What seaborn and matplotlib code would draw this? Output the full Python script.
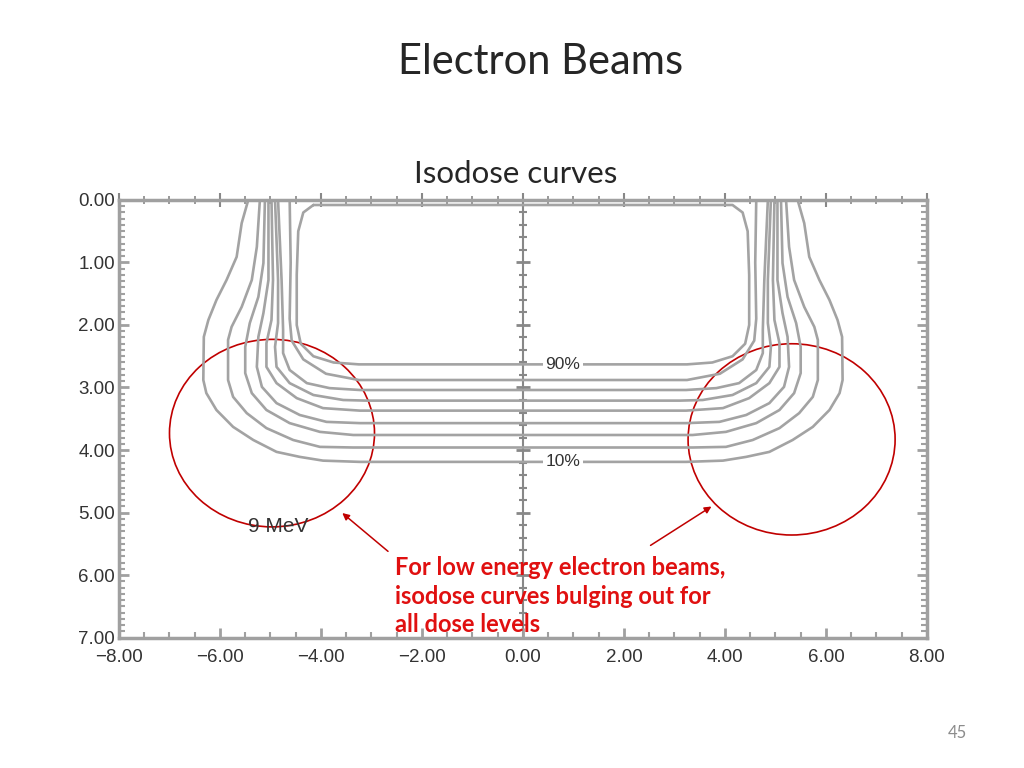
import numpy as np
import pandas as pd
import matplotlib
matplotlib.use('Agg')
import matplotlib.pyplot as plt
import seaborn as sns
from matplotlib.patches import Ellipse
from matplotlib.ticker import MultipleLocator, FuncFormatter

# --------------------------
# 1. Isodose data (9 MeV electron beam)
#    left half of each curve: (lateral x [cm], depth [cm]), surface -> flat bottom
# --------------------------
levels = ['90%', '80%', '70%', '60%', '50%', '40%', '30%', '20%', '10%']

iso_90 = [(-4.15, 0.08), (-4.35, 0.20), (-4.45, 0.50), (-4.48, 1.20), (-4.48, 2.00),
          (-4.40, 2.30), (-4.15, 2.50), (-3.75, 2.60), (-3.25, 2.63)]
iso_80 = [(-4.62, 0.00), (-4.60, 1.00), (-4.62, 1.90), (-4.58, 2.25), (-4.35, 2.55),
          (-3.90, 2.78), (-3.25, 2.88)]
iso_70 = [(-4.85, 0.00), (-4.78, 1.28), (-4.75, 2.08), (-4.75, 2.45), (-4.62, 2.72),
          (-4.28, 2.93), (-3.83, 3.01), (-3.23, 3.04)]
iso_60 = [(-4.91, 0.00), (-4.85, 1.28), (-4.85, 1.97), (-4.91, 2.35), (-4.88, 2.67),
          (-4.62, 2.93), (-4.15, 3.12), (-3.56, 3.20), (-3.10, 3.21)]
iso_50 = [(-4.98, 0.00), (-4.95, 1.28), (-4.98, 1.92), (-5.08, 2.29), (-5.08, 2.67),
          (-4.88, 2.93), (-4.48, 3.17), (-3.96, 3.33), (-3.23, 3.37)]
iso_40 = [(-5.04, 0.00), (-5.04, 1.28), (-5.14, 1.81), (-5.24, 2.19), (-5.27, 2.67),
          (-5.17, 2.99), (-4.88, 3.25), (-4.42, 3.44), (-3.89, 3.55), (-3.23, 3.57)]
iso_30 = [(-5.11, 0.00), (-5.14, 1.01), (-5.24, 1.55), (-5.41, 1.97), (-5.50, 2.35),
          (-5.50, 2.77), (-5.37, 3.09), (-5.08, 3.36), (-4.62, 3.57), (-4.02, 3.71),
          (-3.36, 3.76)]
iso_20 = [(-5.21, 0.00), (-5.27, 0.75), (-5.37, 1.28), (-5.57, 1.71), (-5.77, 2.03),
          (-5.84, 2.24), (-5.84, 2.88), (-5.74, 3.15), (-5.47, 3.41), (-5.08, 3.65),
          (-4.55, 3.84), (-4.02, 3.95), (-3.36, 3.96)]
iso_10 = [(-5.44, 0.00), (-5.57, 0.37), (-5.67, 0.91), (-5.87, 1.28), (-6.07, 1.60),
          (-6.23, 1.92), (-6.32, 2.19), (-6.33, 2.88), (-6.27, 3.09), (-6.07, 3.36),
          (-5.74, 3.63), (-5.34, 3.84), (-4.88, 4.03), (-4.42, 4.11), (-3.96, 4.17),
          (-3.23, 4.19)]
curves = [iso_90, iso_80, iso_70, iso_60, iso_50, iso_40, iso_30, iso_20, iso_10]

# ellipses highlighting the bulge: (x centre, depth centre, width, height)
left_circle = (-4.97, 3.73, 4.06, 3.00)
right_circle = (5.32, 3.83, 4.10, 3.06)

# arrows: (text end) -> (circle end)
left_arrow = ((-2.63, 5.65), (-3.62, 4.98))
right_arrow = ((2.48, 5.55), (3.78, 4.88))

note = 'For low energy electron beams,\nisodose curves bulging out for\nall dose levels'

# mirror each half to the right side; the 90% line is closed along the surface
rows = []
for lev, half in zip(levels, curves):
    full = half + [(-x, y) for x, y in reversed(half)]
    if lev == '90%':
        full = full + [half[0]]
    for i, (x, y) in enumerate(full):
        rows.append({'level': lev, 'order': i, 'x': x, 'depth': y})
df = pd.DataFrame(rows)

# --------------------------
# 2. Plot
# --------------------------
sns.set_style('white')
plt.rcParams['font.family'] = ['Liberation Sans', 'DejaVu Sans']

fig = plt.figure(figsize=(10.24, 7.68), dpi=100)
ax = fig.add_axes([0.1162, 0.1699, 0.789, 0.5697])

sns.lineplot(data=df, x='x', y='depth', units='level', estimator=None, sort=False,
             color='#a3a3a3', lw=1.9, legend=False, ax=ax)

ax.set_xlim(-8, 8)
ax.set_ylim(7, 0)
ax.set_xlabel('')
ax.set_ylabel('')

grey = '#a0a0a0'
for s in ax.spines.values():
    s.set_color(grey)
    s.set_linewidth(2.5)

fmt = FuncFormatter(lambda v, p: f'{v:.2f}'.replace('-', '\u2212'))
ax.xaxis.set_major_locator(MultipleLocator(2))
ax.xaxis.set_minor_locator(MultipleLocator(0.5))
ax.yaxis.set_major_locator(MultipleLocator(1))
ax.yaxis.set_minor_locator(MultipleLocator(0.1))
ax.xaxis.set_major_formatter(fmt)
ax.yaxis.set_major_formatter(fmt)
ax.tick_params(axis='both', which='both', direction='in', color=grey,
               labelcolor='#333333', labelsize=13.5)
ax.tick_params(axis='y', which='both', left=True, right=True, labelright=False, pad=3)
ax.tick_params(axis='x', which='both', bottom=True, top=False, pad=8)
ax.tick_params(which='major', length=7, width=2)
ax.tick_params(which='minor', length=4, width=1.5)

# top edge (surface) and central axis ticks
top = ax.secondary_xaxis('top')
top.xaxis.set_major_locator(MultipleLocator(2))
top.xaxis.set_minor_locator(MultipleLocator(0.5))
top.tick_params(which='both', direction='inout', color='#888888', labeltop=False)
top.tick_params(which='major', length=10, width=1.5)
top.tick_params(which='minor', length=6, width=1.2)
for s in top.spines.values():
    s.set_color('#888888')

mid = ax.secondary_yaxis(0.5)
mid.yaxis.set_major_locator(MultipleLocator(1))
mid.yaxis.set_minor_locator(MultipleLocator(0.2))
mid.tick_params(which='both', direction='inout', color='#888888',
                labelleft=False, labelright=False)
mid.tick_params(which='major', length=10, width=2)
mid.tick_params(which='minor', length=6, width=1.5)
for s in mid.spines.values():
    s.set_color('#888888')
    s.set_linewidth(1.5)

# labels on the curves
lab = dict(fontsize=12.5, color='#333333', ha='center', va='center',
           bbox=dict(boxstyle='square,pad=0.15', fc='white', ec='none'))
ax.text(0.79, 2.63, '90%', **lab)
ax.text(0.79, 4.19, '10%', **lab)
ax.text(-4.85, 5.23, '9 MeV', fontsize=15, color='#333333', ha='center', va='center')

# red highlights
red = '#e01010'
for cx, cy, w, h in [left_circle, right_circle]:
    ax.add_patch(Ellipse((cx, cy), w, h, fill=False, ec='#c00000', lw=1.2, clip_on=False))
for start, end in [left_arrow, right_arrow]:
    ax.annotate('', xy=end, xytext=start,
                arrowprops=dict(arrowstyle='-|>', color='#c00000', lw=1.1, mutation_scale=10))
ax.text(-2.53, 5.70, note, fontsize=17, fontweight='bold', color=red,
        family=['Lato', 'DejaVu Sans'], ha='left', va='top', linespacing=1.28)

# slide title, subtitle and page number
fig.text(0.528, 0.919, 'Electron Beams', fontsize=30, ha='center', va='center',
         family=['Lato', 'DejaVu Sans'])
fig.text(0.504, 0.774, 'Isodose curves', fontsize=22.5, ha='center', va='center',
         family=['Lato', 'DejaVu Sans'])
fig.text(0.9346, 0.0456, '45', fontsize=12, color='#8c8c8c', ha='center', va='center',
         family=['Lato', 'DejaVu Sans'])

plt.savefig('out.png', dpi=100)
plt.close()
